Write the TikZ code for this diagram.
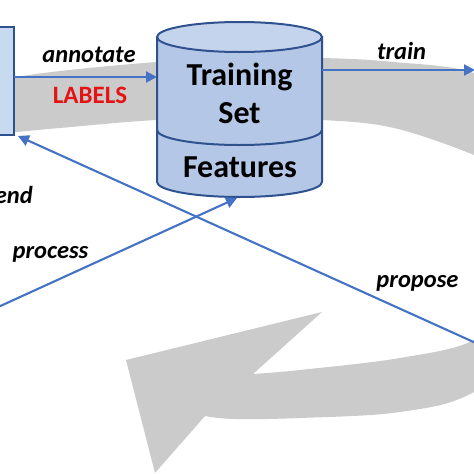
\documentclass[tikz,border=0pt]{standalone}
\usepackage{fontspec}
\setmainfont{Carlito}
\usetikzlibrary{arrows.meta}
\definecolor{arrblue}{RGB}{68,114,196}
\definecolor{edgeblue}{RGB}{47,82,143}
\definecolor{cylbody}{RGB}{180,199,231}
\definecolor{cyltop}{RGB}{197,212,237}
\definecolor{boxfill}{RGB}{200,218,240}
\definecolor{bandgray}{RGB}{203,203,203}
\definecolor{lblred}{RGB}{228,20,20}
\tikzset{
  arr/.style={draw=arrblue, line width=2.1pt, -{Triangle[length=11pt,width=11pt]}},
  lbl/.style={font=\fontsize{24.5}{28}\selectfont\bfseries\itshape, inner sep=0pt, anchor=base},
  cyltxt/.style={font=\fontsize{32}{36}\selectfont\bfseries, inner sep=0pt, anchor=base},
  redtxt/.style={font=\fontsize{25}{28}\selectfont\bfseries, text=lblred, inner sep=0pt, anchor=base},
  shapeedge/.style={draw=edgeblue, line width=2pt},
}
\begin{document}
\begin{tikzpicture}[x=1pt,y=-1pt]
\useasboundingbox (0,0) rectangle (474,474);
\clip (0,0) rectangle (474,474);
% big grey circular arrow
\fill[bandgray]
  plot[smooth, tension=0.6] coordinates {(-4,80) (60,71) (157,62) (240,58) (322,58) (394,62) (474,73) (540,110) (575,220) (550,330) (474,392) (400,412) (300,418) (234,419) (205,416)}
  -- (155,473) -- (126,360) -- (322,312) -- (253,374)
  -- plot[smooth, tension=0.6] coordinates {(253,374) (300,370) (400,358) (474,340) (510,300) (522,230) (502,172) (474,155) (394,128) (322,120) (240,119) (157,120) (60,128) (-4,134)}
  -- cycle;
% left box
\node[shapeedge, fill=boxfill, minimum width=21pt, minimum height=108pt, inner sep=0pt] (src) at (3.5,81) {};
% cylinder
\node[inner sep=0pt, minimum width=165pt, minimum height=175pt] (ts) at (239.5,110) {};
\filldraw[shapeedge, fill=cylbody] (157,37) -- (157,182) arc[start angle=180, end angle=360, x radius=82.5pt, y radius=15pt] -- (322,37) -- cycle;
\filldraw[shapeedge, fill=cyltop] (239.5,37) ellipse[x radius=82.5pt, y radius=15pt];
\draw[shapeedge] (157,130) arc[start angle=180, end angle=360, x radius=82.5pt, y radius=15pt];
\node[cyltxt] (t1) at (239.5,85) {Training};
\node[cyltxt] (t2) at (239.5,123) {Set};
\node[cyltxt] (t3) at (240,177) {Features};
% labels
\node[lbl] (lann) at (89,62) {annotate};
\node[redtxt] (llab) at (90,103) {LABELS};
\node[lbl] (ltrain) at (401.5,59) {train};
\node[lbl, anchor=base east] (lend) at (33,203) {end};
\node[lbl] (lproc) at (50.5,258) {process};
\node[lbl] (lprop) at (417.5,287) {propose};
% connector end points
\coordinate (annS) at (14,77);
\coordinate (annE) at (157,77);
\coordinate (trS) at (322,70);
\coordinate (trE) at (475,70);
\coordinate (prS) at (-4,308);
\coordinate (prE) at (237,198);
\coordinate (ppS) at (478,344);
\coordinate (ppE) at (18,136);
\draw[arr] (annS) -- (annE);
\draw[arr] (trS) -- (trE);
\draw[arr] (prS) -- (prE);
\draw[arr] (ppS) -- (ppE);
\end{tikzpicture}
\end{document}
